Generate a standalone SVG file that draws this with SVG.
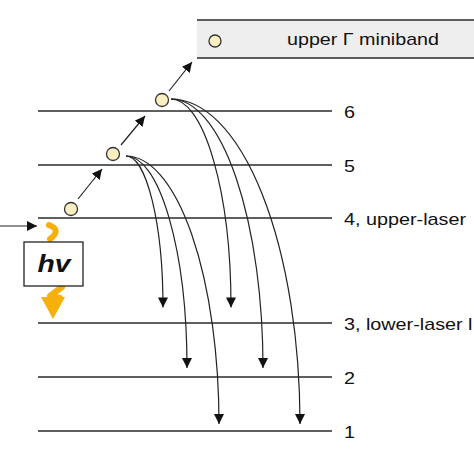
<svg xmlns="http://www.w3.org/2000/svg" width="474" height="474" viewBox="0 0 474 474">
  <defs>
    <marker id="ah" markerUnits="userSpaceOnUse" markerWidth="10" markerHeight="10" refX="10" refY="5" orient="auto" viewBox="0 0 10 10">
      <path d="M0,0 L10,5 L0,10 z" fill="#111"/>
    </marker>
    <style>
      .lvl { stroke: #2a2a2a; stroke-width: 1.7; fill: none; }
      .lbl { font-family: "Liberation Sans", Arial, sans-serif; font-size: 17px; fill: #111; }
      .dot { fill: #FBEFC2; stroke: #333; stroke-width: 1.3; }
      .cv { fill: none; stroke: #222; stroke-width: 1.2; marker-end: url(#ah); }
      .amb { fill: none; stroke: #F6B00C; stroke-width: 6; stroke-linecap: round; stroke-linejoin: round; }
    </style>
  </defs>
  <rect width="474" height="474" fill="#fff"/>

  <g id="miniband">
    <rect x="197" y="20" width="277" height="38" fill="#EEEEEE"/>
    <line x1="197" y1="20" x2="474" y2="20" class="lvl"/>
    <line x1="197" y1="58" x2="474" y2="58" class="lvl"/>
    <circle cx="215" cy="41" r="6" class="dot"/>
    <text x="287" y="45" class="lbl" textLength="152" lengthAdjust="spacingAndGlyphs">upper Γ miniband</text>
  </g>

  <g id="level6">
    <line x1="38" y1="111" x2="332" y2="111" class="lvl"/>
    <text x="344" y="117.5" class="lbl" textLength="11" lengthAdjust="spacingAndGlyphs">6</text>
  </g>
  <g id="level5">
    <line x1="38" y1="165" x2="332" y2="165" class="lvl"/>
    <text x="344" y="171.5" class="lbl" textLength="11" lengthAdjust="spacingAndGlyphs">5</text>
  </g>
  <g id="level4">
    <line x1="38" y1="218" x2="332" y2="218" class="lvl"/>
    <text x="344" y="224.5" class="lbl" textLength="122" lengthAdjust="spacingAndGlyphs">4, upper-laser</text>
  </g>
  <g id="level3">
    <line x1="38" y1="323" x2="332" y2="323" class="lvl"/>
    <text x="344" y="329.5" class="lbl" textLength="128.5" lengthAdjust="spacingAndGlyphs">3, lower-laser l</text>
  </g>
  <g id="level2">
    <line x1="38" y1="377" x2="332" y2="377" class="lvl"/>
    <text x="344" y="383.5" class="lbl" textLength="11" lengthAdjust="spacingAndGlyphs">2</text>
  </g>
  <g id="level1">
    <line x1="38" y1="431" x2="332" y2="431" class="lvl"/>
    <text x="344" y="437.5" class="lbl" textLength="11" lengthAdjust="spacingAndGlyphs">1</text>
  </g>

  <g id="photon">
    <path d="M49,225 Q62,230 50,239" class="amb"/>
    <path d="M62,287 L50,296 L60,298" class="amb"/>
    <polygon points="41,297 65,297 53,319" fill="#F6B00C"/>
    <rect x="24" y="242" width="59" height="44" fill="#fff" stroke="#222" stroke-width="1.3"/>
    <text x="54" y="272" text-anchor="middle" font-family="'Liberation Sans', Arial, sans-serif" font-size="24" font-weight="bold" font-style="italic" fill="#111" textLength="33" lengthAdjust="spacingAndGlyphs">hv</text>
  </g>

  <g id="electrons">
    <circle cx="71" cy="209" r="6.5" class="dot"/>
    <circle cx="113" cy="154" r="6.5" class="dot"/>
    <circle cx="162" cy="100" r="6.5" class="dot"/>
  </g>

  <g id="connectors">
    <line x1="0" y1="226" x2="37" y2="226" stroke="#222" stroke-width="1.2" marker-end="url(#ah)"/>
    <line x1="78" y1="199" x2="102" y2="169" stroke="#222" stroke-width="1.2" marker-end="url(#ah)"/>
    <line x1="121" y1="145" x2="145" y2="116" stroke="#222" stroke-width="1.2" marker-end="url(#ah)"/>
    <line x1="169" y1="91" x2="192" y2="62" stroke="#222" stroke-width="1.2" marker-end="url(#ah)"/>

    <path d="M126,156 A37,151 0 0 1 163,307.5" class="cv"/>
    <path d="M126,156 A61,212 0 0 1 187,368" class="cv"/>
    <path d="M126,156 A93,268 0 0 1 219,424" class="cv"/>

    <path d="M171,99 A60,208 0 0 1 231,307.5" class="cv"/>
    <path d="M171,99 A92,269 0 0 1 263,368" class="cv"/>
    <path d="M171,99 A129,325 0 0 1 300,424" class="cv"/>
  </g>
</svg>
